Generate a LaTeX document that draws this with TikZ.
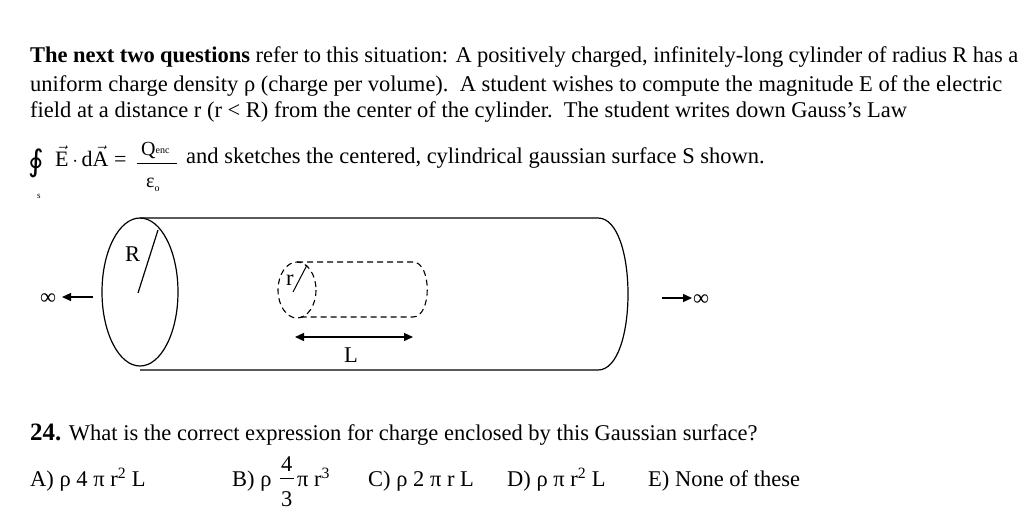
\documentclass[tikz,border=0pt]{standalone}
\usepackage{fontspec}
\setmainfont{Liberation Serif}
\newfontfamily\djv{DejaVu Sans}
\usetikzlibrary{arrows.meta}
\begin{document}
\begin{tikzpicture}[x=1pt,y=-1pt,
  txt/.style={anchor=base west,inner sep=0pt,font=\fontsize{22.5}{26}\selectfont},
  solidl/.style={line width=1.2pt},
  dashl/.style={line width=1.1pt,dash pattern=on 6pt off 4pt},
  arr/.style={line width=1.4pt,-{Triangle[length=9pt,width=8pt]}}]
\useasboundingbox (0,0) rectangle (1024,523);
\node[txt] (l1) at (30,62) {\hbox to 988pt{\textbf{The next two questions} refer to this situation: A positively charged, infinitely-long cylinder of radius R has a}};
\node[txt] (l2) at (30,91) {uniform charge density ρ (charge per volume).\ \ A student wishes to compute the magnitude E of the electric};
\node[txt] (l3) at (30,117) {field at a distance r (r < R) from the center of the cylinder.\ \ The student writes down Gauss’s Law};
\node[txt,font=\djv\fontsize{30}{30}\selectfont] (oint) at (28,171) {∮};
\node[txt,font=\fontsize{9}{10}\selectfont] (s) at (37,198) {s};
\node[txt,font=\fontsize{22}{24}\selectfont] (ea) at (55,166) {$\vec{\hbox{E}}$\,$\cdot$\,d$\vec{\hbox{A}}$ =};
\node[txt,font=\fontsize{20}{24}\selectfont] (q) at (141,155) {Q\raisebox{2pt}{\fontsize{10}{10}\selectfont enc}};
\draw[line width=0.8pt] (137,163) -- (177,163);
\node[txt,font=\fontsize{20}{24}\selectfont] (eps) at (146,187) {ε\raisebox{-4pt}{\fontsize{10}{10}\selectfont o}};
\node[txt] (l4) at (186,163) {and sketches the centered, cylindrical gaussian surface S shown.};
% big cylinder
\draw[solidl] (140,292) ellipse [x radius=38,y radius=74];
\draw[solidl] (140,218) -- (598,218) .. controls (638,218) and (638,370) .. (598,370) -- (140,370);
\draw[solidl] (138,293) -- (158,230);
\node[txt] (R) at (125,261) {R};
% small cylinder
\draw[dashl] (297,290) ellipse [x radius=19,y radius=28];
\draw[dashl] (297,262) -- (413,262) .. controls (432,262) and (432,317) .. (413,317) -- (297,317);
\draw[line width=1pt] (293,292) -- (307,265);
\node[txt] (r) at (286,285) {r};
\draw[line width=1.4pt,{Triangle[length=9pt,width=8pt]}-{Triangle[length=9pt,width=8pt]}] (295,337) -- (413,337);
\node[txt] (L) at (344,362) {L};
\node[txt] (infl) at (40,304) {∞};
\node[txt] (infr) at (693,305) {∞};
\coordinate (al0) at (93,297); \coordinate (al1) at (62,297);
\coordinate (ar0) at (662,298); \coordinate (ar1) at (692,298);
\draw[arr] (al0) -- (al1);
\draw[arr] (ar0) -- (ar1);
% question
\node[txt] (q24) at (30,440) {\textbf{\fontsize{25}{26}\selectfont 24.} What is the correct expression for charge enclosed by this Gaussian surface?};
\node[txt] (a) at (30,486) {A) ρ 4 π r\textsuperscript{2} L};
\node[txt] (b) at (232,486) {B) ρ};
\node[txt] (b4) at (281,471) {4};
\draw[line width=0.8pt] (280,478) -- (294,478);
\node[txt] (b3) at (281,506) {3};
\node[txt] (bp) at (297,486) {π r\textsuperscript{3}};
\node[txt] (c) at (368,486) {C) ρ 2 π r L};
\node[txt] (d) at (507,486) {D) ρ π r\textsuperscript{2} L};
\node[txt] (e) at (648,486) {E) None of these};
\end{tikzpicture}
\end{document}
